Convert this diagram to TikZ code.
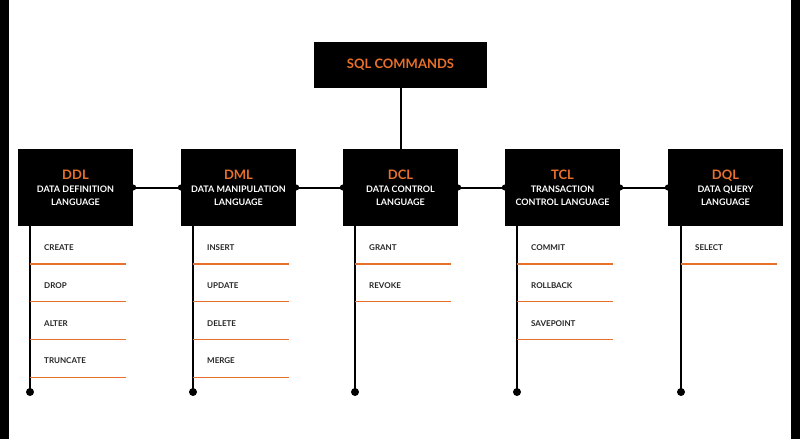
\documentclass[tikz,border=0pt]{standalone}
\usepackage{fontspec}
\setmainfont{Lato}
\definecolor{og}{HTML}{E8702A}
\begin{document}
\begin{tikzpicture}[x=1pt,y=-1pt,
  cat/.style={fill=black,minimum width=115pt,minimum height=77pt,inner sep=0pt,text=white,align=center,font=\bfseries\fontsize{9}{13}\selectfont},
  item/.style={anchor=west,font=\bfseries\fontsize{8}{9}\selectfont,text=black!85,inner sep=0pt},
  uline/.style={og,line width=1.2pt},
  conn/.style={line width=2pt},
  dot/.style={circle,fill=black,inner sep=0pt,minimum size=8pt}]
\useasboundingbox (0,0) rectangle (800,439);
\fill[white] (0,0) rectangle (800,439);
\fill[black] (0,0) rectangle (9,439);
\fill[black] (791,0) rectangle (800,439);
\node[fill=black,minimum width=173pt,minimum height=46pt,inner sep=0pt,text=og,font=\bfseries\fontsize{13}{15}\selectfont] (sql) at (400.5,65) {SQL COMMANDS};
\node[cat] (ddl) at (75.5,187.5) {{\color{og}\fontsize{13}{16}\selectfont DDL}\\DATA DEFINITION\\LANGUAGE};
\node[cat] (dml) at (238.5,187.5) {{\color{og}\fontsize{13}{16}\selectfont DML}\\DATA MANIPULATION\\LANGUAGE};
\node[cat] (dcl) at (400.5,187.5) {{\color{og}\fontsize{13}{16}\selectfont DCL}\\DATA CONTROL\\LANGUAGE};
\node[cat] (tcl) at (562.5,187.5) {{\color{og}\fontsize{13}{16}\selectfont TCL}\\TRANSACTION\\CONTROL LANGUAGE};
\node[cat] (dql) at (725.5,187.5) {{\color{og}\fontsize{13}{16}\selectfont DQL}\\DATA QUERY\\LANGUAGE};
\draw[conn] (sql.south) -- (dcl.north);
\foreach \a/\b in {ddl/dml,dml/dcl,dcl/tcl,tcl/dql}{
  \draw[conn] (\a.east) -- (\b.west);
  \fill (\a.east) circle (3pt); \fill (\b.west) circle (3pt);}
\foreach \n/\x in {ddl/30,dml/193,dcl/355,tcl/517,dql/681}{
  \coordinate (e\n) at (\x,392);
  \draw[conn] (\x,226) -- (e\n);
  \node[dot] at (e\n) {};}
\foreach \n/\x/\items in {ddl/30/{CREATE,DROP,ALTER,TRUNCATE},dml/193/{INSERT,UPDATE,DELETE,MERGE},dcl/355/{GRANT,REVOKE},tcl/517/{COMMIT,ROLLBACK,SAVEPOINT},dql/681/{SELECT}}{
  \foreach \t [count=\i] in \items {
    \pgfmathsetmacro\yy{248+37.7*(\i-1)}
    \node[item] at (\x+14,\yy) {\t};
    \draw[uline] (\x,\yy+16) -- (\x+96,\yy+16);}}
\end{tikzpicture}
\end{document}
